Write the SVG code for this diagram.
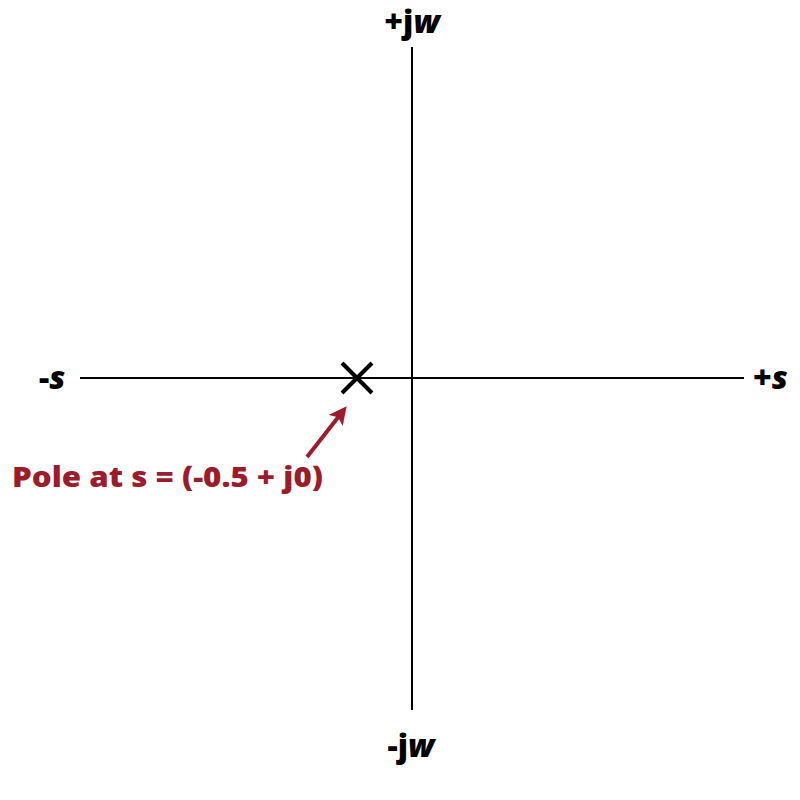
<svg xmlns="http://www.w3.org/2000/svg" width="800" height="800" viewBox="0 0 800 800">
<style>
.axis{stroke:#000;stroke-width:2;fill:none}
.lbl{font-family:"Open Sans","Liberation Sans",sans-serif;font-weight:800;font-size:32px;fill:#000}
.it{font-style:italic}
.pole{stroke:#000;stroke-width:4;stroke-linecap:butt}
.note{font-family:"Open Sans","Liberation Sans",sans-serif;font-weight:800;font-size:29px;fill:#9b1c2a}
</style>
<defs>
<marker id="ah" markerWidth="18" markerHeight="18" refX="12" refY="9" orient="auto" markerUnits="userSpaceOnUse" viewBox="0 0 18 18">
<path d="M0,0 L18,9 L0,18 L4,9 z" fill="#9b1c2a"/>
</marker>
</defs>
<rect width="800" height="800" fill="#fff"/>
<g id="connectors">
<line class="axis" x1="412" y1="47" x2="412" y2="710"/>
<line class="axis" x1="80" y1="378" x2="744" y2="378"/>
<line x1="307" y1="457" x2="343" y2="411" stroke="#9b1c2a" stroke-width="4" marker-end="url(#ah)"/>
</g>
<g id="pole">
<line class="pole" x1="342" y1="363" x2="372" y2="393"/>
<line class="pole" x1="372" y1="363" x2="342" y2="393"/>
</g>
<g id="label-pjw"><text class="lbl" x="412" y="33" text-anchor="middle">+j<tspan class="it">w</tspan></text></g>
<g id="label-njw"><text class="lbl" x="411" y="757" text-anchor="middle">-j<tspan class="it">w</tspan></text></g>
<g id="label-ns"><text class="lbl" x="39" y="389">-<tspan class="it">s</tspan></text></g>
<g id="label-ps"><text class="lbl" x="753" y="389">+<tspan class="it">s</tspan></text></g>
<g id="note"><text class="note" x="12" y="487" textLength="311" lengthAdjust="spacingAndGlyphs">Pole at s = (-0.5 + j0)</text></g>
</svg>
